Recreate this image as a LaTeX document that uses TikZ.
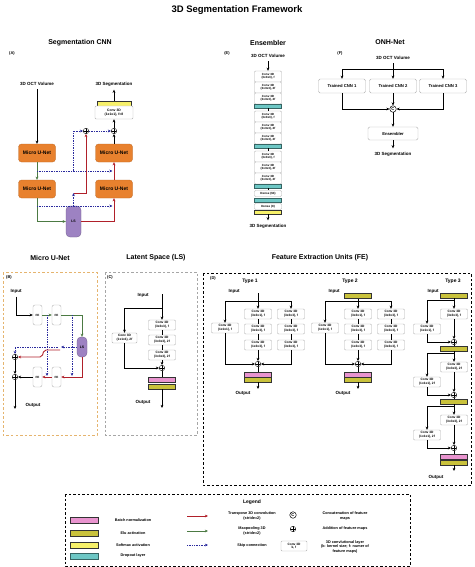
\documentclass[tikz,border=0pt]{standalone}
\usepackage{fontspec}
\setmainfont{Liberation Sans}
\usetikzlibrary{arrows.meta}

\definecolor{bnpink}{HTML}{E994CF}
\definecolor{eluolive}{HTML}{C9C23C}
\definecolor{smyellow}{HTML}{F7F16A}
\definecolor{doteal}{HTML}{6DC7C5}
\definecolor{unetorange}{HTML}{E8812E}
\definecolor{lspurple}{HTML}{9D82C2}
\definecolor{tred}{HTML}{B0202A}
\definecolor{tgreen}{HTML}{4C7A43}
\definecolor{tblue}{HTML}{2B2B9E}
\definecolor{panelorange}{HTML}{E5B46E}

\newcommand\fsz[2]{\fontsize{#1}{#2}\selectfont}

\tikzset{
  ttl/.style={font=\bfseries\fsz{9.5}{10}},
  hd/.style={font=\bfseries\fsz{7}{7.5}},
  hdsmall/.style={font=\bfseries\fsz{5}{6}},
  lb/.style={font=\bfseries\fsz{4}{4.5}},
  io/.style={font=\bfseries\fsz{4.5}{5}},
  lg/.style={font=\bfseries\fsz{3.8}{4.3}, align=center},
  conv/.style={draw=gray!60, fill=white, rounded corners=1pt, align=center,
    inner sep=0pt, minimum width=27pt, minimum height=10pt, font=\bfseries\fsz{3.2}{3.7}},
  econv/.style={conv, minimum height=11pt, font=\bfseries\fsz{3}{3.5}},
  trn/.style={draw=gray!60, fill=white, rounded corners=1.5pt, minimum width=47pt,
    minimum height=14pt, font=\bfseries\fsz{4.2}{4.5}},
  unet/.style={fill=unetorange, draw=unetorange!80!black, line width=0.3pt,
    rounded corners=3pt, minimum width=37pt, minimum height=18pt, font=\bfseries\fsz{5}{5.5}},
  lsbox/.style={fill=lspurple, draw=lspurple!70!black, line width=0.3pt,
    rounded corners=4pt, inner sep=0pt, font=\bfseries\fsz{3.5}{4}},
  febox/.style={draw=gray!60, fill=white, rounded corners=2pt, minimum width=9pt,
    minimum height=20pt, inner sep=0pt, font=\bfseries\fsz{3}{3.5}},
  bar/.style={draw=black!80, line width=0.4pt, minimum height=5pt, minimum width=27pt, inner sep=0pt},
  bnbar/.style={bar, fill=bnpink},
  elubar/.style={bar, fill=eluolive},
  smbar/.style={bar, fill=smyellow},
  dobar/.style={bar, fill=doteal, draw=doteal!50!black, minimum height=4pt},
  addop/.style={circle, draw, fill=white, minimum size=5.5pt, inner sep=0pt, line width=0.4pt,
    path picture={\draw[line width=0.4pt] (path picture bounding box.north) -- (path picture bounding box.south)
      (path picture bounding box.west) -- (path picture bounding box.east);}},
  catop/.style={circle, draw, fill=white, minimum size=6.5pt, inner sep=0pt, line width=0.5pt,
    font=\bfseries\fsz{4.2}{4.2}},
  ar/.style={-{Stealth[length=3.2pt,width=2.8pt]}, line width=0.7pt},
  tconv/.style={ar, draw=tred, line width=0.9pt},
  mpool/.style={ar, draw=tgreen, line width=0.9pt},
  skipc/.style={ar, draw=tblue, densely dotted, line width=0.7pt},
  panelB/.style={draw=panelorange, line width=0.8pt, dash pattern=on 2.5pt off 2pt},
  panelC/.style={draw=gray!70, line width=0.8pt, dash pattern=on 2.5pt off 2pt},
  panelD/.style={draw=black, line width=0.9pt, dash pattern=on 2.5pt off 2pt}
}

\begin{document}
\begin{tikzpicture}[x=1pt,y=-1pt]
\useasboundingbox (0,0) rectangle (474,567);
\node[ttl] (title) at (237,10) {3D Segmentation Framework};

% (A) segmentation CNN
\node[hd] (hdA) at (80,43) {Segmentation CNN};
\node[lb] (lbA) at (12,53) {(A)};
\node[io] (inA) at (37,84) {3D OCT Volume};
\node[io] (outA) at (114,84) {3D Segmentation};
\node[smbar, minimum width=34pt] (smA) at (114,103.5) {};
\node[conv, minimum width=38pt, minimum height=13pt, font=\bfseries\fsz{3.4}{4}] (cvA) at (114,112.5) {Conv 3D\\(1x1x1), f=8};
\node[addop] (a1) at (86,131) {};
\node[addop] (a2) at (114,131) {};
\node[unet] (u1) at (37,153) {Micro U-Net};
\node[unet] (u2) at (37,189) {Micro U-Net};
\node[unet] (u3) at (114,189) {Micro U-Net};
\node[unet] (u4) at (114,153) {Micro U-Net};
\node[lsbox, minimum width=15pt, minimum height=31pt] (lsA) at (73.5,221.5) {LS};
\coordinate (k1) at (37,171);
\coordinate (k2) at (73,171);
\coordinate (k3) at (37,206);
\coordinate (k4) at (73.5,193);
\coordinate (k5) at (86,193);
\draw[ar] (inA) -- (u1);
\draw[mpool] (u1) -- (u2);
\draw[mpool] (u2.south) |- (lsA.west);
\draw[tconv] (lsA.east) -| (u3.south);
\draw[tconv] (u3) -- (u4);
\draw[ar] (u4) -- (a2);
\draw[ar] (a2) -- (cvA);
\draw[ar] (smA) -- (outA);
\draw[skipc] (k1) -- ([xshift=-1.5pt]k1 -| u4.south);
\draw[skipc] (k2) |- (a1.west);
\draw[skipc] (k3) -- ([xshift=-1.5pt]k3 -| u3.south);
\draw[skipc] (lsA.north) -- (k4);
\draw[tconv] (k4) -- (k5) -- (a1.south);
\draw[skipc] (a1) -- (a2);

% (E) ensembler
\node[hd] (hdE) at (268,43) {Ensembler};
\node[lb] (lbE) at (227,53) {(E)};
\node[io] (ein) at (268,56) {3D OCT Volume};
\foreach \g in {0,1,2} {
  \pgfmathsetmacro\ey{71+40*\g}
  \node[econv] (ea\g) at (268,\ey+5.5) {Conv 3D\\(3x3x3), f};
  \node[econv] (eb\g) at (268,\ey+16.5) {Conv 3D\\(3x3x3), 2f};
  \node[econv] (ec\g) at (268,\ey+27.5) {Conv 3D\\(3x3x3), 2f};
  \node[dobar] (ed\g) at (268,\ey+35) {};
}
\draw (ed0) -- (ea1);
\draw (ed1) -- (ea2);
\node[econv, minimum height=6pt] (eden1) at (268,193.5) {Dense (64)};
\node[dobar] (edo) at (268,200) {};
\node[econv, minimum height=6pt] (eden2) at (268,206.5) {Dense (8)};
\node[smbar, minimum height=4pt] (esm) at (268,212) {};
\node[io] (eout) at (268,226) {3D Segmentation};
\draw (ed2) -- (eden1);
\draw[ar] (ein) -- (ea0);
\draw[ar] (esm) -- (eout);

% (F) ONH-Net
\node[hd] (hdF) at (390,42) {ONH-Net};
\node[lb] (lbF) at (340,53) {(F)};
\node[io] (inF) at (393,58) {3D OCT Volume};
\node[trn] (t1) at (342,86) {Trained CNN 1};
\node[trn] (t2) at (393,86) {Trained CNN 2};
\node[trn] (t3) at (443,86) {Trained CNN 3};
\node[catop] (cF) at (393,109) {C};
\node[trn, minimum width=50pt, minimum height=13pt] (enF) at (393,133.5) {Ensembler};
\node[io] (outF) at (393,154) {3D Segmentation};
\coordinate (f0) at (393,69);
\draw[ar] (inF) -- (t2);
\draw[ar] (f0) -| (t1);
\draw[ar] (f0) -| (t3);
\draw[ar] (t1) |- (cF);
\draw[ar] (t3) |- (cF);
\draw[ar] (t2) -- (cF);
\draw[ar] (cF) -- (enF);
\draw[ar] (enF) -- (outF);

% second row headings and frames
\node[hd] (hdB) at (50,258) {Micro U-Net};
\node[hd] (hdC) at (156,258) {Latent Space (LS)};
\node[hd] (hdD) at (320,258) {Feature Extraction Units (FE)};
\draw[panelB] (3,272) rectangle (97,435);
\draw[panelC] (105,272) rectangle (197,435);
\draw[panelD] (203,273) rectangle (471,485);
\draw[panelD] (65,494) rectangle (410,566);

% (B) micro U-Net
\node[lb] (lbB) at (9,277) {(B)};
\node[io] (inB) at (16,291) {Input};
\node[febox] (fe1) at (37.5,315) {FE};
\node[febox] (fe2) at (56.5,315) {FE};
\node[febox] (fe3) at (37.5,377) {FE};
\node[febox] (fe4) at (56.5,377) {FE};
\node[lsbox, minimum width=10pt, minimum height=20pt] (lsB) at (82,347) {LS};
\node[addop] (addB1) at (15,357) {};
\node[addop] (addB2) at (15,377) {};
\node[io] (outB) at (33,405) {Output};
\coordinate (oB) at (15,409);
\coordinate (b1) at (47,315);
\coordinate (b2) at (72,315);
\coordinate (b3) at (61,347);
\coordinate (b4) at (15,347);
\coordinate (b5) at (60,350);
\draw[ar] (inB.south) |- (fe1.west);
\draw[mpool] (fe1) -- (fe2);
\draw[mpool] (fe2.east) -| (lsB.north);
\draw[tconv] (lsB.south) |- (fe4.east);
\draw[tconv] (fe4) -- (fe3);
\draw[ar] (fe3) -- (addB2);
\draw[ar] (addB1) -- (addB2);
\draw[ar] (addB2) -- (oB);
\draw[skipc, shorten >=1pt] (b1) -- (b1 |- fe3);
\draw[skipc, shorten >=1pt] (b2) -- (b2 |- fe4);
\draw[skipc] (lsB.west) -- (b3);
\draw[skipc] ([xshift=-3pt]b3) -- (b4) -- (addB1);
\draw[tconv, rounded corners=2pt] (b5) -- (44,350) -- (42,357) -- (addB1.east);

% (C) latent space
\node[lb] (lbC) at (110,277) {(C)};
\node[io] (inC) at (143,295) {Input};
\node[conv] (cva) at (162,325) {Conv 3D\\(3x3x3), f};
\node[conv] (cvb) at (162,340) {Conv 3D\\(3x3x3), 2f};
\node[conv] (cvc) at (162,355) {Conv 3D\\(3x3x3), 2f};
\node[conv, minimum width=25pt] (cvl) at (124.5,338) {Conv 3D\\(1x1x1), 2f};
\node[addop] (addC) at (162,368) {};
\node[bnbar] (bnC) at (162,380) {};
\node[elubar] (elC) at (162,386.5) {};
\node[io] (outC) at (143,402) {Output};
\coordinate (c0) at (162,294);
\coordinate (c1) at (162,308);
\coordinate (oC) at (162,408);
\draw[ar] (c0) -- (cva);
\draw[ar] (c1) -| (cvl);
\draw (cva) -- (cvb);
\draw (cvb) -- (cvc);
\draw[ar] (cvc) -- (addC);
\draw[ar] (cvl) |- (addC);
\draw (addC) -- (bnC);
\draw[ar] (elC) -- (oC);

% (D) feature extraction units
\node[lb] (lbD) at (213,278) {(D)};
\foreach \n/\mx in {1/258,2/358} {
  \node[hdsmall] (ty\n) at (\mx-8,281) {Type \n};
  \node[io] (tin\n) at (\mx-24,291) {Input};
  \coordinate (tk\n) at (\mx,293);
  \coordinate (tj\n) at (\mx,301);
  \coordinate (to\n) at (\mx,389);
  \node[conv] (tma\n) at (\mx,314) {Conv 3D\\(3x3x1), f};
  \node[conv] (tmb\n) at (\mx,329) {Conv 3D\\(3x1x3), f};
  \node[conv] (tmc\n) at (\mx,345) {Conv 3D\\(1x3x3), f};
  \node[conv] (tra\n) at (\mx+33,314) {Conv 3D\\(3x3x3), f};
  \node[conv] (trb\n) at (\mx+33,329) {Conv 3D\\(3x3x3), f};
  \node[conv] (trc\n) at (\mx+33,345) {Conv 3D\\(3x3x3), f};
  \node[conv] (tl\n) at (\mx-33,328) {Conv 3D\\(1x1x1), f};
  \node[addop] (tad\n) at (\mx,364) {};
  \node[bnbar] (tbn\n) at (\mx,374.5) {};
  \node[elubar] (tel\n) at (\mx,379.5) {};
  \node[io] (tout\n) at (\mx-15,393) {Output};
  \draw[ar] (tk\n) -- (tma\n);
  \draw[ar] (tj\n) -| (tl\n);
  \draw[ar] (tj\n) -| (tra\n);
  \draw (tma\n) -- (tmb\n);
  \draw (tmb\n) -- (tmc\n);
  \draw (tra\n) -- (trb\n);
  \draw (trb\n) -- (trc\n);
  \draw[ar] (tmc\n) -- (tad\n);
  \draw[ar] (tl\n) |- (tad\n);
  \draw[ar] (trc\n) |- (tad\n);
  \draw (tad\n) -- (tbn\n);
  \draw[ar] (tel\n) -- (to\n);
}
\node[elubar] (tbar2) at (358,295.5) {};

% type 3
\node[hdsmall] (ty3) at (453,281) {Type 3};
\node[io] (tin3) at (433,291) {Input};
\node[elubar] (t3e0) at (454,295.5) {};
\foreach \i/\f in {1/f,2/2f,3/2f} {
  \pgfmathtruncatemacro\j{\i-1}
  \pgfmathsetmacro\yy{309+53*(\i-1)}
  \coordinate (t3k\i) at (454,\yy-9);
  \node[conv] (t3r\i) at (454,\yy+5) {Conv 3D\\(3x3x3), \f};
  \node[conv] (t3l\i) at (427,\yy+20) {Conv 3D\\(1x1x1), \f};
  \node[addop] (t3a\i) at (454,\yy+33) {};
  \draw[ar] (t3e\j) -- (t3r\i);
  \draw[ar] (t3k\i) -| (t3l\i);
  \draw[ar] (t3l\i) |- (t3a\i);
  \draw[ar] (t3r\i) -- (t3a\i);
  \ifnum\i<3
    \node[elubar] (t3e\i) at (454,\yy+39.5) {};
    \draw (t3a\i) -- (t3e\i);
  \fi
}
\node[bnbar] (t3bn) at (454,457) {};
\node[elubar] (t3el) at (454,462.5) {};
\node[io] (tout3) at (436,477) {Output};
\coordinate (to3) at (454,471);
\draw (t3a3) -- (t3bn);
\draw[ar] (t3el) -- (to3);

% legend
\node[hdsmall] (lgt) at (252,502) {Legend};
\node[bnbar, minimum width=28pt, minimum height=6pt] (lg1) at (84,520) {};
\node[elubar, minimum width=28pt, minimum height=6pt] (lg2) at (84,533) {};
\node[smbar, minimum width=28pt, minimum height=6pt] (lg3) at (84,545) {};
\node[dobar, minimum width=28pt, minimum height=6pt] (lg4) at (84,556) {};
\node[lg] (lt1) at (133,520) {Batch normalization};
\node[lg] (lt2) at (133,533) {Elu activation};
\node[lg] (lt3) at (133,545) {Softmax activation};
\node[lg] (lt4) at (133,556) {Dropout layer};
\coordinate (la1) at (187,516);
\coordinate (lb1) at (208,516);
\coordinate (la2) at (187,531);
\coordinate (lb2) at (208,531);
\coordinate (la3) at (187,545);
\coordinate (lb3) at (208,545);
\draw[tconv] (la1) -- (lb1);
\draw[mpool] (la2) -- (lb2);
\draw[skipc] (la3) -- (lb3);
\node[lg] (lt5) at (252,516) {Transpose 3D convolution\\(stride=2)};
\node[lg] (lt6) at (252,531) {Maxpooling 3D\\(stride=2)};
\node[lg] (lt7) at (252,546) {Skip connection};
\node[catop] (lgc1) at (293,515) {C};
\node[addop] (lgc2) at (293,529) {};
\node[conv, minimum width=26pt] (lgc3) at (294,546) {Conv 3D\\k, f};
\node[lg] (lt8) at (345,516) {Concatenation of feature\\maps};
\node[lg] (lt9) at (345,529) {Addition of feature maps};
\node[lg] (lt10) at (345,547) {3D convlutional layer\\(k: kernel size; f: numer of\\feature maps)};
\end{tikzpicture}
\end{document}
